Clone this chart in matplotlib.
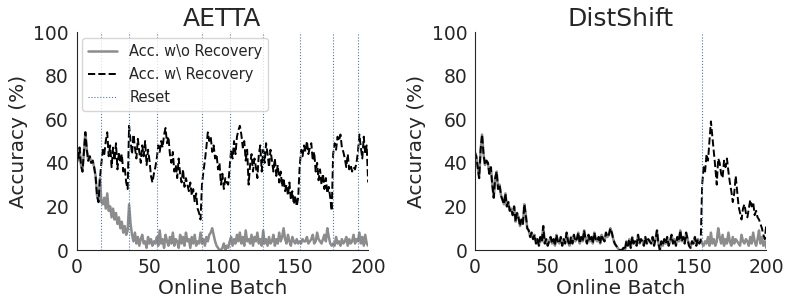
import numpy as np
import matplotlib

matplotlib.use("Agg")
from matplotlib import pyplot as plt
import seaborn as sns

# ---------------- data ----------------
batches = np.arange(201)

# AETTA: both curves coincide before the first reset
aetta_shared = [45, 41, 47, 39, 36, 45, 54, 46, 41, 43, 40, 41, 38, 34, 25, 22, 33]
aetta_w_tail = [
    40, 46, 44, 50, 54, 43, 48, 38, 47, 41, 49, 37, 45, 40, 44, 36, 38, 31, 28,
    57, 50, 44, 53, 47, 42, 51, 45, 40, 48, 43, 50, 39, 46, 41, 34, 31, 35, 38,
    42, 48, 45, 50, 47, 53, 56, 49, 52, 44, 40, 45, 36, 39, 33, 42, 35, 31, 37, 29,
    33, 30, 27, 31, 25, 28, 22, 26, 19, 17, 14,
    30, 36, 41, 47, 54, 50, 52, 45, 48, 42, 44, 37, 40, 30, 35, 28, 33, 31, 30,
    38, 46, 42, 50, 44, 52, 55, 57, 53, 47, 50, 41, 46, 30, 39, 44, 36, 42, 38, 33,
    44, 48, 36,
    46, 40, 49, 44, 38, 46, 41, 36, 42, 34, 39, 31, 36, 29, 33, 27, 30, 25, 31, 23,
    27, 21, 25, 20, 24,
    38, 46, 43, 48, 45, 50, 44, 47, 49, 41, 45, 36, 40, 32, 37, 30, 35, 28, 33, 26,
    29, 24, 18,
    44, 49, 46, 52, 50, 53, 47, 45, 42, 38, 44, 37, 39, 36, 38, 37, 40,
    45, 53, 47, 42, 52, 44, 48, 31,
]
aetta_wo_tail = [
    22, 21, 24, 19, 26, 18, 20, 15, 19, 14, 17, 12, 15, 10, 13, 8, 11, 7, 9,
    21, 12, 7, 4, 8, 3, 6, 2, 5, 7, 3, 4, 1, 6, 3, 5, 2, 4, 3,
    6, 2, 9, 3, 5, 1, 7, 4, 2, 6, 3, 8, 2, 5, 4, 1, 7, 3, 6, 2, 8, 4, 5, 1, 6, 3,
    7, 2, 4, 3, 8,
    3, 5, 2, 6, 4, 7, 8, 10, 7, 4, 2, 1, 0, 0, 1, 3, 0, 2, 1,
    4, 6, 2, 5, 3, 7, 4, 8, 3, 6, 2, 9, 4, 5, 3, 7, 2, 6, 4, 8, 3, 5, 2,
    9, 3, 5, 2, 6, 3, 4, 7, 2, 5, 3, 8, 4, 6, 10, 5, 3, 7, 4, 2, 6, 4, 3, 5, 3,
    4, 3, 5, 4, 4, 6, 3, 4, 5, 7, 3, 4, 8, 5, 4, 3, 5, 7, 4, 10, 6, 3, 2,
    3, 2, 6, 3, 4, 2, 5, 3, 4, 6, 2, 5, 3, 4, 7, 3, 5,
    4, 8, 3, 6, 2, 7, 3, 2,
]
aetta_resets = [17, 36, 55, 86, 105, 128, 153, 176, 193]

# DistShift: both curves coincide until the single reset
dist_shared = [
    45, 43, 38, 33, 46, 53, 44, 39, 41, 40, 35, 38, 30, 24, 33, 36, 28, 30, 25, 23,
    21, 26, 20, 22, 18, 19, 16, 20, 13, 17, 15, 11, 14, 12, 21, 16, 10, 9, 6, 8, 5,
    7, 3, 5, 2, 6, 4, 11, 3, 5, 2, 4, 6, 3, 5, 2, 7, 4, 3, 6, 2,
    5, 3, 8, 4, 2, 6, 3, 7, 4, 5, 8, 3, 6, 4, 9, 5, 3, 7, 4, 6,
    3, 8, 5, 4, 6, 3, 7, 5, 4, 8, 6, 7, 10, 8, 5, 3, 2, 1, 0, 0,
    0, 1, 0, 4, 2, 5, 1, 6, 3, 4, 2, 7, 3, 5, 4, 2, 6, 3, 5, 4,
    3, 6, 2, 5, 9, 3, 0, 4, 2, 5, 3, 6, 2, 4, 7, 3, 5, 2, 6, 4,
    9, 4, 6, 3, 8, 5, 2, 1, 4, 3, 6, 2, 5, 3, 4,
]
dist_w_tail = [
    30, 38, 36, 44, 41, 50, 59, 52, 45, 38, 30, 42, 40, 35, 33, 41, 38, 42, 36, 31,
    27, 22, 26, 34, 27, 20, 17, 14, 19, 21, 17, 15, 19, 23, 20, 22, 16, 18, 15, 14,
    12, 10, 7, 5, 12,
]
dist_wo_tail = [
    3, 2, 4, 3, 6, 2, 8, 3, 5, 2, 4, 10, 6, 3, 7, 2, 5, 3, 8, 4,
    2, 6, 3, 5, 4, 3, 2, 7, 4, 3, 5, 4, 2, 6, 3, 8, 4, 2, 5, 9,
    3, 6, 2, 4, 1,
]
dist_resets = [156]

panels = [
    ("AETTA", aetta_shared + aetta_wo_tail, aetta_shared + aetta_w_tail, aetta_resets),
    ("DistShift", dist_shared + dist_wo_tail, dist_shared + dist_w_tail, dist_resets),
]

# ---------------- plot ----------------
sns.set_style("white")
plt.rcParams["font.family"] = ["DejaVu Sans"]

fig = plt.figure(figsize=(7.9, 3.02), dpi=100)
axes = [fig.add_axes([0.097, 0.172, 0.369, 0.722]),
        fig.add_axes([0.601, 0.172, 0.369, 0.722])]

for ax, (title, acc_wo, acc_w, resets) in zip(axes, panels):
    ax.plot(batches, acc_wo, color="#8c8c8c", lw=1.8, label="Acc. w\\o Recovery")
    ax.plot(batches, acc_w, color="black", lw=1.4, ls="--", label="Acc. w\\ Recovery")
    for i, r in enumerate(resets):
        ax.axvline(r, color="#5878a8", ls=":", lw=0.8,
                   label="Reset" if i == 0 else None)
    ax.set_xlim(0, 200)
    ax.set_ylim(0, 100)
    ax.set_xticks([0, 50, 100, 150, 200])
    ax.set_yticks([0, 20, 40, 60, 80, 100])
    ax.tick_params(labelsize=13.5, pad=2)
    ax.set_title(title, fontsize=18, pad=4)
    ax.set_xlabel("Online Batch", fontsize=14.5, labelpad=2)
    ax.set_ylabel("Accuracy (%)", fontsize=14.5, labelpad=4)
    for s in ["top", "right"]:
        ax.spines[s].set_visible(False)
    for s in ["left", "bottom"]:
        ax.spines[s].set_color("#262626")

axes[0].legend(loc="upper left", fontsize=10.5, frameon=True, borderaxespad=0.4,
               labelspacing=0.55)

plt.savefig("out.png", dpi=100)
